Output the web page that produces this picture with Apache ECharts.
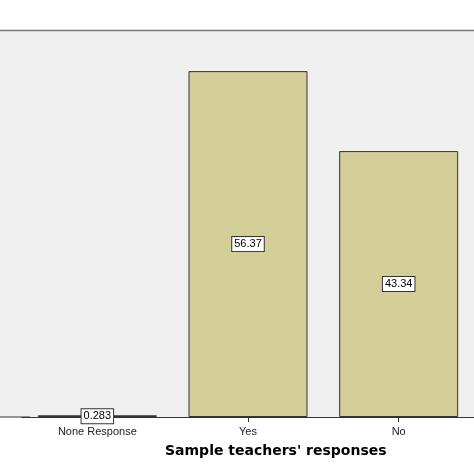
<!DOCTYPE html>
<html><head><meta charset="utf-8">
<script src="https://cdn.jsdelivr.net/npm/echarts@6/dist/echarts.min.js"></script>
<style>html,body{margin:0;padding:0;background:#fff}#c{width:474px;height:474px}</style>
</head><body><div id="c"></div>
<script>
const categories = ["None Response", "Yes", "No"];
const values = [0.283, 56.37, 43.34];
const chart = echarts.init(document.getElementById('c'));
chart.setOption({
  animation: false,
  graphic: [
    {type:'rect', z:-10, shape:{x:0,y:30,width:474,height:387}, style:{fill:'#f0f0f0'}},
    {type:'line', z:-9, shape:{x1:0,y1:30.5,x2:474,y2:30.5}, style:{stroke:'#777',lineWidth:1.5}},
    {type:'line', z:10, shape:{x1:0,y1:417,x2:30,y2:417}, style:{stroke:'#333',lineWidth:1}},
    {type:'text', left: 165, top: 444, style:{text:"Sample teachers' responses", font:'bold 14px "DejaVu Sans"', fill:'#000'}}
  ],
  grid: {left: 22, width: 477, top: 30, height: 387},
  xAxis: {
    type: 'category', data: categories,
    axisLine: {show: true, lineStyle: {color: '#333'}},
    axisTick: {show: true, alignWithLabel: true, length: 5, lineStyle: {color: '#333'}},
    axisLabel: {fontFamily: 'Liberation Sans', fontSize: 11, color: '#222', margin: 9}
  },
  yAxis: {type: 'value', min: 0, max: 63.07, show: false, splitLine: {show: false}},
  series: [{
    type: 'bar', data: values, barWidth: 119,
    itemStyle: {color: '#d3ce97', borderColor: '#333', borderWidth: 1},
    label: {show: true, position: 'inside', color: '#000', fontFamily: 'Liberation Sans', fontSize: 11,
      backgroundColor: '#fff', borderColor: '#333', borderWidth: 1, padding: [2, 2, 1, 2]}
  }]
});
</script></body></html>
